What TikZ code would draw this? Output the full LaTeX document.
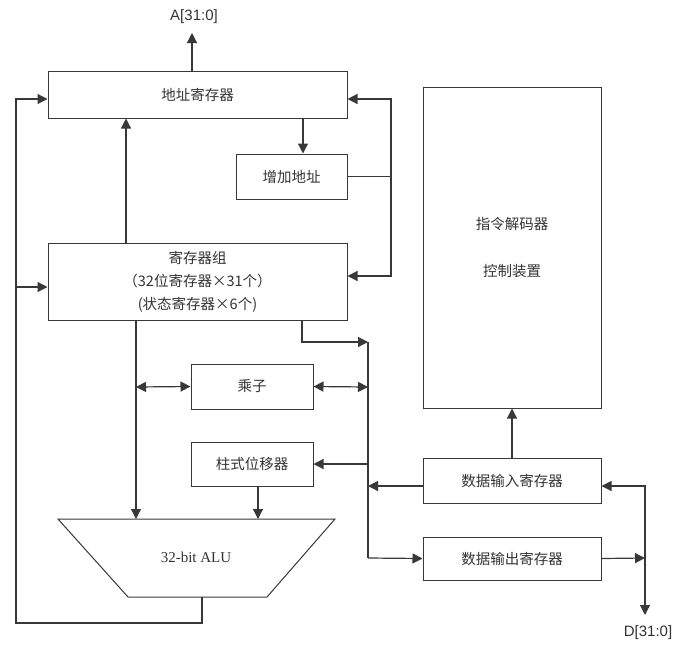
\documentclass[tikz,border=0pt]{standalone}
\usepackage{fontspec}
\setmainfont{Liberation Serif}
\newfontfamily\cjk{Noto Sans CJK SC}
\newfontfamily\lsans{Liberation Sans}
\usetikzlibrary{arrows.meta}
\definecolor{lc}{HTML}{383838}
\definecolor{tc}{HTML}{333333}
\begin{document}
\begin{tikzpicture}[x=1pt,y=-1pt,
  box/.style={draw=lc, line width=1pt, inner sep=0pt, text=tc, align=center,
    font=\cjk\fontsize{14.5}{23}\selectfont},
  arr/.style={draw=lc, line width=1.2pt, -{Triangle[length=10pt,width=10pt]}},
  darr/.style={draw=lc, line width=1.2pt, {Triangle[length=10pt,width=10pt]}-{Triangle[length=10pt,width=10pt]}},
  ln/.style={draw=lc, line width=1.2pt},
  lab/.style={text=tc, font=\lsans\fontsize{15}{17}\selectfont, inner sep=0pt}]
\useasboundingbox (0,0) rectangle (698,651);

% boxes
\node[box, minimum width=299pt, minimum height=47pt] (addr) at (197.5,94.5) {地址寄存器};
\node[box, minimum width=111pt, minimum height=45pt] (inc) at (291.5,176.5) {增加地址};
\node[box, minimum width=299pt, minimum height=77pt] (regs) at (197.5,281.5) {寄存器组\\（32位寄存器×31个）\\(状态寄存器×6个)};
\node[box, minimum width=122pt, minimum height=45pt] (mul) at (252,386.5) {乘子};
\node[box, minimum width=122pt, minimum height=44pt] (shift) at (252,464) {柱式位移器};
\node[box, minimum width=178pt, minimum height=321pt] (dec) at (512,247.5) {指令解码器\\[24pt]控制装置};
\node[box, minimum width=178pt, minimum height=45pt] (din) at (512,480.5) {数据输入寄存器};
\node[box, minimum width=178pt, minimum height=43pt] (dout) at (512,558.5) {数据输出寄存器};

% ALU trapezoid
\coordinate (alutl) at (58,519);
\coordinate (alutr) at (335,519);
\coordinate (alubr) at (267,597);
\coordinate (alubl) at (128,597);
\draw[ln, line width=1pt] (alutl) -- (alutr) -- (alubr) -- (alubl) -- cycle;
\node[text=tc, font=\fontsize{15}{17}\selectfont, inner sep=0pt] (alu) at (196,557) {32-bit ALU};
\coordinate (aluout) at (202,597);

% labels
\node[lab] (Aout) at (194,17) {A[31:0]};
\node[lab] (Dout) at (648,633) {D[31:0]};

% connectors
\draw[arr] (addr.north -| 192,0) -- (192,33);
\draw[arr] (aluout) -- (202,623) -- (16,623) -- (16,99) -- (addr.west |- 0,99);
\draw[arr] (16,287) -- (regs.west |- 0,287);
\draw[arr] (regs.north -| 126,0) -- (addr.south -| 126,0);
\draw[arr] (addr.south -| 303,0) -- (inc.north -| 303,0);
\draw[ln] (inc.east) -- (391,176.5);
\draw[arr] (391,176.5) |- (addr.east |- 0,99);
\draw[arr] (391,176.5) |- (regs.east |- 0,276);
\draw[arr] (regs.south -| 136,0) -- (136,519);
\draw[darr] (136,387) -- (mul.west);
\draw[darr] (mul.east) -- (368,387);
\draw[arr] (regs.south -| 302,0) |- (368,342);
\draw[ln] (368,342) -- (368,558);
\draw[arr] (368,464) -- (shift.east);
\draw[arr] (din.west |- 0,486) -- (368,486);
\draw[arr] (368,558) -- (dout.west);
\draw[arr] (shift.south -| 258,0) -- (258,519);
\draw[arr] (din.north) -- (dec.south);
\draw[arr] (dout.east) -- (645,558);
\draw[darr] (din.east |- 0,486) -| (645,615);
\end{tikzpicture}
\end{document}
